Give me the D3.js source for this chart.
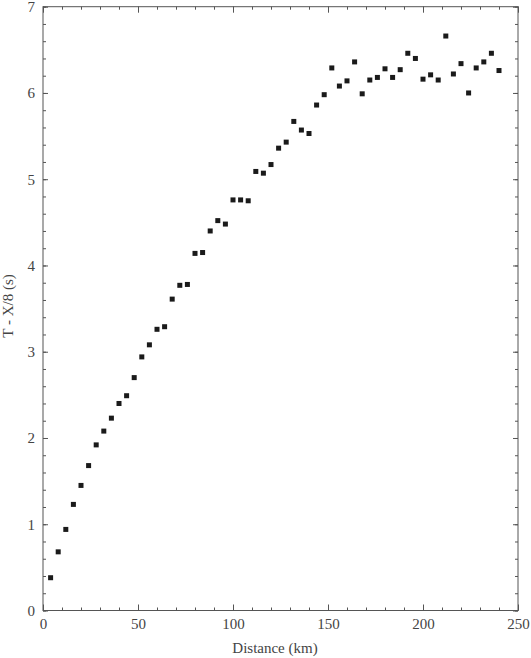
<!DOCTYPE html>
<html><head><meta charset="utf-8">
<script src="https://cdn.jsdelivr.net/npm/d3@7"></script>
<style>body{margin:0;background:#fff}svg{display:block}
svg text{font-family:"Liberation Serif","Times New Roman","DejaVu Serif",serif !important;}</style>
</head><body>
<svg id="c" width="531" height="658"></svg>
<script>
const distances = [4,8,12,16,20,24,28,32,36,40,44,48,52,56,60,64,68,72,76,80,84,88,92,96,100,104,108,112,116,120,124,128,132,136,140,144,148,152,156,160,164,168,172,176,180,184,188,192,196,200,204,208,212,216,220,224,228,232,236,240];
const times = [0.38,0.68,0.94,1.23,1.45,1.68,1.92,2.08,2.23,2.40,2.49,2.70,2.94,3.08,3.26,3.29,3.61,3.77,3.78,4.14,4.15,4.40,4.52,4.48,4.76,4.76,4.75,5.09,5.07,5.17,5.36,5.43,5.67,5.57,5.53,5.86,5.98,6.29,6.08,6.14,6.36,5.99,6.15,6.18,6.28,6.18,6.27,6.46,6.40,6.16,6.21,6.15,6.66,6.22,6.34,6.00,6.29,6.36,6.46,6.26];
const xTicks = [0,50,100,150,200,250];
const yTicks = [0,1,2,3,4,5,6,7];
const xLabel = "Distance (km)";
const yLabel = "T - X/8 (s)";

const svg = d3.select("#c");
const L = 43, R = 518, T = 6.7, B = 610.5;
const x = d3.scaleLinear().domain([0,250]).range([L,R]);
const y = d3.scaleLinear().domain([0,7]).range([B,T]);
const axisColor = "#555", textColor = "#444", font = "'Liberation Serif', 'DejaVu Serif', serif";

svg.append("rect").attr("x",L).attr("y",T).attr("width",R-L).attr("height",B-T)
  .attr("fill","none").attr("stroke",axisColor).attr("stroke-width",1);

function styleAxis(g){
  g.attr("font-family",font);
  g.select(".domain").remove();
  g.selectAll("line").attr("stroke",axisColor);
  g.selectAll("text").attr("fill",textColor).style("font-size","15px");
}
const xMinor = d3.range(0,251,10), yMinor = d3.range(0,36).map(i=>+(i*0.2).toFixed(1));
svg.append("g").attr("transform",`translate(0,${B})`)
  .call(d3.axisBottom(x).tickValues(xMinor).tickSize(-3).tickFormat("")).call(styleAxis);
svg.append("g").attr("transform",`translate(0,${B})`)
  .call(d3.axisBottom(x).tickValues(xTicks).tickSize(-6).tickPadding(8).tickFormat(d3.format("d"))).call(styleAxis);
svg.append("g").attr("transform",`translate(0,${T})`)
  .call(d3.axisTop(x).tickValues(xMinor).tickSize(-3).tickFormat("")).call(styleAxis);
svg.append("g").attr("transform",`translate(0,${T})`)
  .call(d3.axisTop(x).tickValues(xTicks).tickSize(-6).tickFormat("")).call(styleAxis);
svg.append("g").attr("transform",`translate(${L},0)`)
  .call(d3.axisLeft(y).tickValues(yMinor).tickSize(-3).tickFormat("")).call(styleAxis);
svg.append("g").attr("transform",`translate(${L},0)`)
  .call(d3.axisLeft(y).tickValues(yTicks).tickSize(-5).tickPadding(8).tickFormat(d3.format("d"))).call(styleAxis);
svg.append("g").attr("transform",`translate(${R},0)`)
  .call(d3.axisRight(y).tickValues(yMinor).tickSize(-3).tickFormat("")).call(styleAxis);
svg.append("g").attr("transform",`translate(${R},0)`)
  .call(d3.axisRight(y).tickValues(yTicks).tickSize(-5).tickFormat("")).call(styleAxis);

svg.append("text").attr("x",275).attr("y",652.5).attr("text-anchor","middle")
  .attr("fill",textColor).attr("font-family",font).style("font-size","15px").text(xLabel);
svg.append("text").attr("transform",`translate(13,306) rotate(-90)`).attr("text-anchor","middle")
  .attr("fill",textColor).attr("font-family",font).style("font-size","15px").text(yLabel);

const s = 5;
svg.append("g").selectAll("rect").data(distances.map((d,i)=>[d,times[i]])).join("rect")
  .attr("x",d=>x(d[0])-s/2).attr("y",d=>y(d[1])-s/2).attr("width",s).attr("height",s)
  .attr("fill","#1a1a1a");
</script>
</body></html>
